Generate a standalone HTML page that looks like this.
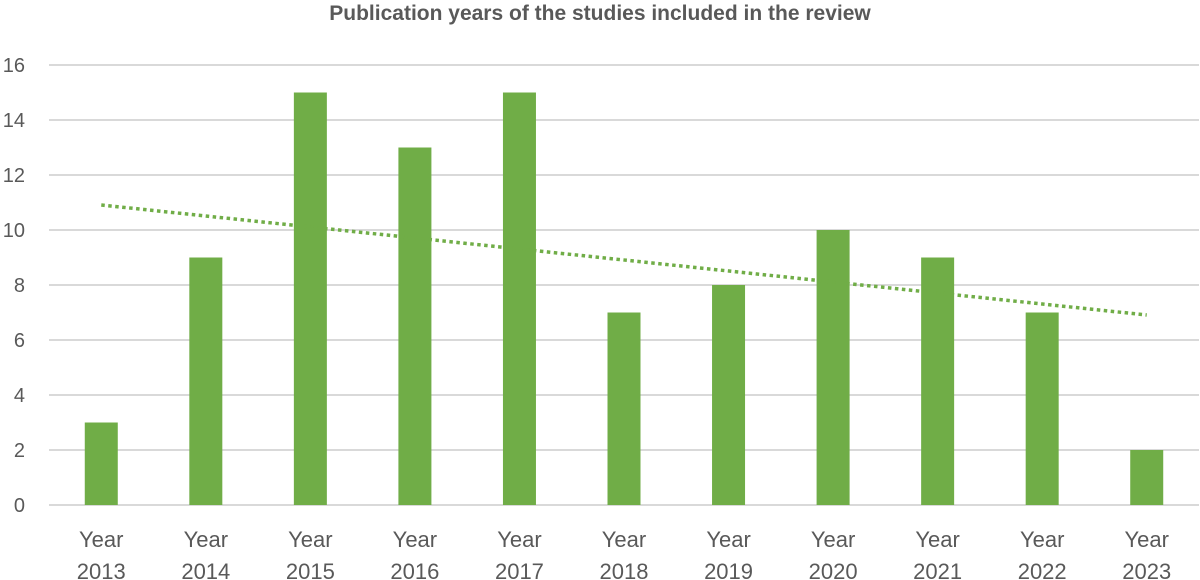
<!DOCTYPE html>
<html><head><meta charset="utf-8"><style>
html,body{margin:0;padding:0;background:#fff;}
svg{display:block;font-family:"Liberation Sans",Arial,sans-serif;}
</style></head><body>
<svg id="chart" width="1200" height="580" viewBox="0 0 1200 580">
<text x="600" y="20" text-anchor="middle" font-size="21" font-weight="bold" fill="#595959">Publication years of the studies included in the review</text>
<g id="grid"></g><g id="bars"></g><g id="trend"></g><g id="ylabels"></g><g id="xlabels"></g>
</svg>
<script>
const categories = ["2013","2014","2015","2016","2017","2018","2019","2020","2021","2022","2023"];
const values = [3,9,15,13,15,7,8,10,9,7,2];
const yTicks = [0,2,4,6,8,10,12,14,16];
const NS="http://www.w3.org/2000/svg";
const left=49, right=1199, y0=505, yMax=16, pxPerUnit=27.5;
const band=(right-left)/categories.length;
const xC=i=>left+band*(i+0.5);
const yS=v=>y0-v*pxPerUnit;
function mk(tag,attrs,parent){const e=document.createElementNS(NS,tag);for(const k in attrs)e.setAttribute(k,attrs[k]);document.getElementById(parent).appendChild(e);return e;}
yTicks.forEach(t=>{
  const l=mk('line',{x1:left,x2:right,y1:yS(t),y2:yS(t),stroke:'#d9d9d9','stroke-width':2},'grid');
  
  
  const tx=mk('text',{x:25,y:yS(t)+7,'text-anchor':'end','font-size':20,fill:'#595959'},'ylabels');
  tx.textContent=t;
  
  
});
const bw=33;
values.forEach((v,i)=>{
  const r=mk('rect',{x:xC(i)-bw/2,y:yS(v),width:bw,height:v*pxPerUnit,fill:'#70ad47'},'bars');
  
  
  const t1=mk('text',{x:xC(i),y:547,'text-anchor':'middle','font-size':22,fill:'#595959'},'xlabels');
  t1.textContent='Year';
  
  
  const t2=mk('text',{x:xC(i),y:579,'text-anchor':'middle','font-size':22,fill:'#595959'},'xlabels');
  t2.textContent=categories[i];
  
  
});
// linear trendline
const n=values.length;let mx=(n-1)/2,my=values.reduce((a,b)=>a+b,0)/n,sxy=0,sxx=0;
values.forEach((v,i)=>{sxy+=(i-mx)*(v-my);sxx+=(i-mx)*(i-mx);});
const slope=sxy/sxx,ic=my-slope*mx;
const tl=mk('line',{x1:xC(0),y1:yS(ic),x2:xC(n-1),y2:yS(ic+slope*(n-1)),stroke:'#70ad47','stroke-width':3.5,'stroke-dasharray':'3.5 3.5'},'trend');


</script>
</body></html>
